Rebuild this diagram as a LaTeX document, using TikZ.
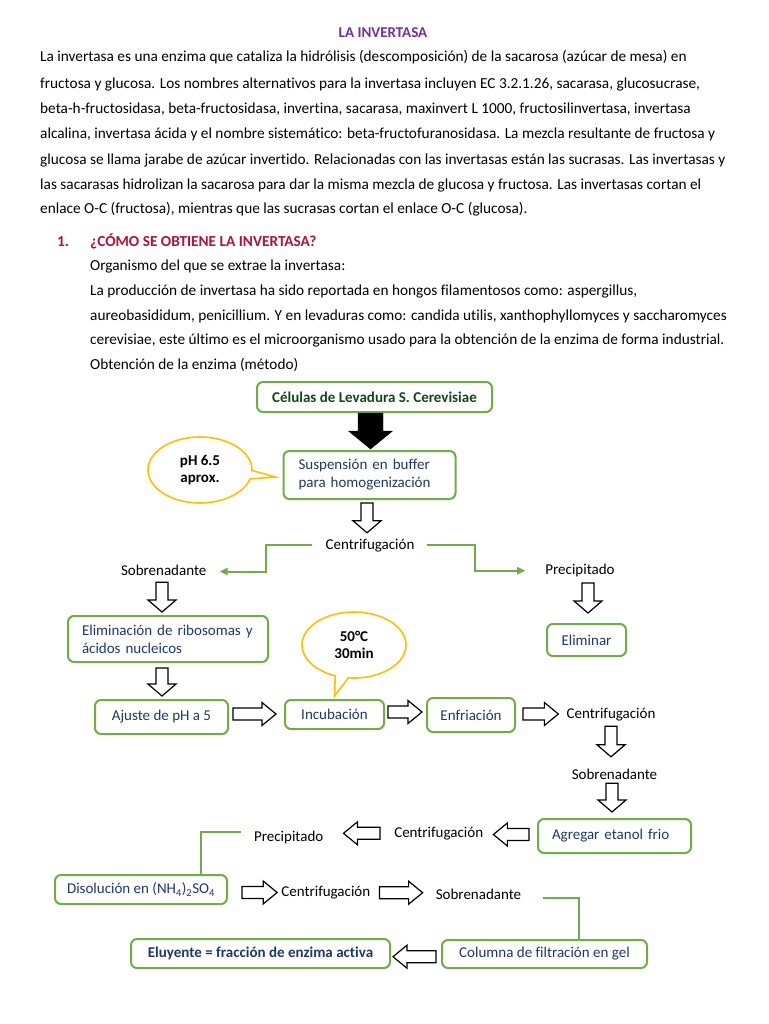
\documentclass[tikz,border=0pt]{standalone}
\usepackage{fontspec}
\setmainfont{Carlito}[Ligatures={NoCommon,NoContextual,NoRare}, Contextuals={NoAlternate}, RawFeature={-liga}]
\usetikzlibrary{calc,shapes.callouts,arrows.meta}
\definecolor{boxgreen}{RGB}{112,173,71}
\definecolor{navytext}{RGB}{31,56,100}
\definecolor{calloutyellow}{RGB}{255,192,0}
\definecolor{titlepurple}{RGB}{112,48,160}
\definecolor{headred}{RGB}{176,18,58}
\definecolor{celgreen}{RGB}{20,70,30}
\newcommand\dnarrow[2]{\draw[hollow] let \p1=#1, \p2=#2 in (\x1-6pt,\y1) -- (\x1+6pt,\y1) -- (\x1+6pt,\y2+12pt) -- (\x1+14pt,\y2+12pt) -- (\x1,\y2) -- (\x1-14pt,\y2+12pt) -- (\x1-6pt,\y2+12pt) -- cycle;}
\newcommand\rtarrow[2]{\draw[hollow] let \p1=#1, \p2=#2 in (\x1,\y1+6pt) -- (\x2-14pt,\y1+6pt) -- (\x2-14pt,\y1+11.5pt) -- (\x2,\y1) -- (\x2-14pt,\y1-11.5pt) -- (\x2-14pt,\y1-6pt) -- (\x1,\y1-6pt) -- cycle;}
\newcommand\ltarrow[2]{\draw[hollow] let \p1=#1, \p2=#2 in (\x1,\y1+6pt) -- (\x2+14pt,\y1+6pt) -- (\x2+14pt,\y1+11.5pt) -- (\x2,\y1) -- (\x2+14pt,\y1-11.5pt) -- (\x2+14pt,\y1-6pt) -- (\x1,\y1-6pt) -- cycle;}
\tikzset{
 box/.style={draw=boxgreen, line width=2pt, rounded corners=6pt, fill=white, text=navytext, inner sep=0pt, align=center},
 lbl/.style={inner sep=0pt, text height=11pt, text depth=3pt},
 body/.style={anchor=base west, inner sep=0pt, font=\fontsize{15.3}{18}\selectfont},
 headtxt/.style={body, font=\fontsize{15.3}{18}\selectfont\bfseries, text=headred},
 gline/.style={draw=boxgreen, line width=2pt},
 garrow/.style={gline, -{Triangle[length=8pt,width=7pt]}},
 hollow/.style={draw=black, line width=1.2pt, fill=white, line join=miter},
 bubble/.style={ellipse callout, draw=calloutyellow, line width=1.6pt, fill=white, minimum width=104pt, minimum height=66pt, inner sep=0pt, font=\fontsize{15}{17.5}\selectfont\bfseries, align=center},
}
\begin{document}
\begin{tikzpicture}[x=1pt,y=-1pt,font=\fontsize{15}{18}\selectfont]
\useasboundingbox (0,0) rectangle (768,1024);
\fill[white] (0,0) rectangle (768,1024);
% title and text
\node[font=\fontsize{15}{18}\selectfont\bfseries, text=titlepurple, inner sep=0pt] (title) at (383,33) {LA INVERTASA};
\node[body] (p1) at (40,62) {La invertasa es una enzima que cataliza la hidrólisis (descomposición) de la sacarosa (azúcar de mesa) en};
\node[body] (p2) at (40,88.5) {fructosa y glucosa. Los nombres alternativos para la invertasa incluyen EC 3.2.1.26, sacarasa, glucosucrase,};
\node[body] (p3) at (40,114) {beta-h-fructosidasa, beta-fructosidasa, invertina, sacarasa, maxinvert L 1000, fructosilinvertasa, invertasa};
\node[body] (p4) at (40,139) {alcalina, invertasa ácida y el nombre sistemático: beta-fructofuranosidasa. La mezcla resultante de fructosa y};
\node[body] (p5) at (40,164.5) {glucosa se llama jarabe de azúcar invertido. Relacionadas con las invertasas están las sucrasas. Las invertasas y};
\node[body] (p6) at (40,190) {las sacarasas hidrolizan la sacarosa para dar la misma mezcla de glucosa y fructosa. Las invertasas cortan el};
\node[body] (p7) at (40,214) {enlace O-C (fructosa), mientras que las sucrasas cortan el enlace O-C (glucosa).};
\node[headtxt] (hnum) at (57,246) {1.};
\node[headtxt] (head) at (90,246) {¿CÓMO SE OBTIENE LA INVERTASA?};
\node[body] (s1) at (90,270) {Organismo del que se extrae la invertasa:};
\node[body] (s2) at (90,295) {La producción de invertasa ha sido reportada en hongos filamentosos como: aspergillus,};
\node[body] (s3) at (90,320) {aureobasididum, penicillium. Y en levaduras como: candida utilis, xanthophyllomyces y saccharomyces};
\node[body] (s4) at (90,344.5) {cerevisiae, este último es el microorganismo usado para la obtención de la enzima de forma industrial.};
\node[body] (s5) at (90,369) {Obtención de la enzima (método)};
% boxes
\node[box, minimum width=235pt, minimum height=30pt, text=celgreen, font=\fontsize{15}{18}\selectfont\bfseries] (cel) at (374.5,397) {Células de Levadura S. Cerevisiae};
\node[box, minimum height=48pt, text width=142pt, inner xsep=15pt, align=left] (susp) at (369.5,475) {Suspensión en buffer\\para homogenización};
\node[box, minimum height=46pt, text width=172pt, inner xsep=14pt, align=left] (elim) at (168,639) {Eliminación de ribosomas y\\ácidos nucleicos};
\node[box, minimum width=79pt, minimum height=32pt] (elimr) at (586.5,640) {Eliminar};
\node[box, minimum width=133pt, minimum height=34pt] (ajuste) at (161.5,717) {Ajuste de pH a 5};
\node[box, minimum width=99pt, minimum height=29pt] (incub) at (334.5,714.5) {Incubación};
\node[box, minimum width=88pt, minimum height=34pt] (enfr) at (471,715) {Enfriación};
\node[box, minimum height=34pt, text width=125pt, inner xsep=14pt, align=left] (agregar) at (614.5,836) {Agregar etanol frio};
\node[box, minimum width=172pt, minimum height=29pt] (disol) at (141,889.5) {Disolución en (NH\textsubscript{4})\textsubscript{2}SO\textsubscript{4}};
\node[box, minimum width=259pt, minimum height=29pt, font=\fontsize{15}{18}\selectfont\bfseries] (eluy) at (260.5,953.5) {Eluyente = fracción de enzima activa};
\node[box, minimum width=205pt, minimum height=28pt] (columna) at (544.5,954) {Columna de filtración en gel};
% labels
\node[lbl] (cent1) at (370,545) {Centrifugación};
\node[lbl] (sob1) at (163.7,571.5) {Sobrenadante};
\node[lbl] (prec1) at (580,570.7) {Precipitado};
\node[lbl] (cent2) at (611,714) {Centrifugación};
\node[lbl] (sob2) at (614.5,775) {Sobrenadante};
\node[lbl] (cent3) at (438.7,833.3) {Centrifugación};
\node[lbl] (prec2) at (288.7,837.3) {Precipitado};
\node[lbl] (cent4) at (325.8,892.7) {Centrifugación};
\node[lbl] (sob3) at (478.5,895.7) {Sobrenadante};
% callouts
\node[bubble, callout absolute pointer={([xshift=-7pt,yshift=-2pt]susp.west)}] (ph) at (200,470) {pH 6.5\\aprox.};
\node[bubble, callout absolute pointer={([yshift=3pt]incub.north)}] (temp) at (354,645) {50°C\\30min};
% black arrow
\draw[fill=black] let \p1=([xshift=-4pt]cel.south), \p2=([yshift=1pt]susp.north) in
  (\x1-12.5pt,\y1) -- (\x1+12.5pt,\y1) -- (\x1+12.5pt,\y2+18pt) -- (\x1+22pt,\y2+18pt) -- (\x1,\y2) -- (\x1-22pt,\y2+18pt) -- (\x1-12.5pt,\y2+18pt) -- cycle;
% hollow arrows
\dnarrow{([xshift=-2.5pt,yshift=-3pt]susp.south)}{([yshift=5pt]cent1.north)}
\dnarrow{([xshift=-1.7pt,yshift=-3.5pt]sob1.south)}{([yshift=3pt]elim.north)}
\dnarrow{([xshift=8pt,yshift=-5pt]prec1.south)}{([yshift=10pt]elimr.north)}
\dnarrow{([xshift=-6pt,yshift=-5pt]elim.south)}{([yshift=3pt]ajuste.north)}
\dnarrow{([yshift=-5pt]cent2.south)}{([yshift=11pt]sob2.north)}
\dnarrow{([xshift=-2.5pt,yshift=-1pt]sob2.south)}{([yshift=6pt]agregar.north)}
\rtarrow{([xshift=4pt,yshift=3pt]ajuste.east)}{([xshift=-8pt]incub.west)}
\rtarrow{([xshift=3pt,yshift=2.5pt]incub.east)}{([xshift=-4pt]enfr.west)}
\rtarrow{([xshift=7pt,yshift=1pt]enfr.east)}{([xshift=-8pt]cent2.west)}
\rtarrow{([xshift=14pt,yshift=-3pt]disol.east)}{([xshift=-4pt]cent4.west)}
\rtarrow{([xshift=9pt]cent4.east)}{([xshift=-13pt]sob3.west)}
\ltarrow{([xshift=-8pt,yshift=1.5pt]agregar.west)}{([xshift=10pt]cent3.east)}
\ltarrow{([xshift=-14pt]cent3.west)}{([xshift=20pt]prec2.east)}
\ltarrow{([xshift=-5pt,yshift=-2.7pt]columna.west)}{([xshift=2pt]eluy.east)}
% green connectors
\draw[garrow] ([xshift=-13pt]cent1.west) -- ++(-46,0) |- ([xshift=13pt]sob1.east);
\draw[garrow] ([xshift=12pt]cent1.east) -- ++(48,0) |- ([xshift=-20pt]prec1.west);
\draw[gline] ([xshift=-13pt,yshift=5.6pt]prec2.west) -| ([xshift=60pt]disol.north);
\draw[gline] ([xshift=22pt,yshift=-2.6pt]sob3.east) -| ([xshift=34pt]columna.north);
\end{tikzpicture}
\end{document}
